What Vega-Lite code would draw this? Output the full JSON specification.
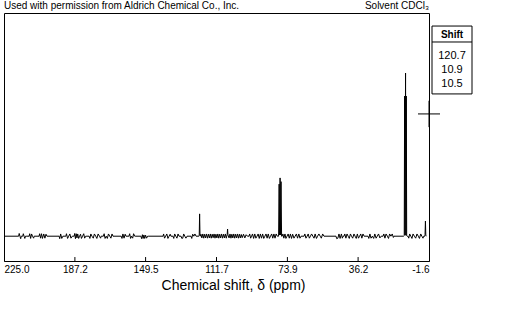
{
  "$schema": "https://vega.github.io/schema/vega-lite/v6.json",
  "padding": {"left": 3, "top": 0, "right": 0, "bottom": 0},
  "background": "white",
  "config": {
    "font": "Liberation Sans",
    "view": {"stroke": "black", "strokeWidth": 1}
  },
  "datasets": {
    "spectrum": [
      {"d":225.0,"v":10},{"d":217.2,"v":10},{"d":216.9,"v":11.1},{"d":216.5,"v":10},{"d":216.1,"v":9},{"d":215.8,"v":10},{"d":215.0,"v":10},{"d":214.7,"v":11},{"d":214.3,"v":10},{"d":213.9,"v":9.1},{"d":213.5,"v":10},{"d":212.8,"v":10},
      {"d":211.6,"v":10},{"d":211.3,"v":11},{"d":210.8,"v":9.1},{"d":210.3,"v":10.9},{"d":209.8,"v":10},{"d":209.2,"v":9.2},{"d":208.9,"v":10},
      {"d":206.3,"v":10},{"d":206.0,"v":11},{"d":205.5,"v":9.2},{"d":205.0,"v":11},{"d":204.5,"v":9.1},{"d":203.8,"v":10.9},{"d":203.2,"v":9.2},{"d":202.6,"v":10.8},{"d":202.1,"v":10},
      {"d":195.6,"v":10},{"d":195.3,"v":9},{"d":194.8,"v":10.9},{"d":194.2,"v":9.1},{"d":193.6,"v":10},{"d":193.0,"v":10},
      {"d":192.0,"v":10},{"d":191.7,"v":11},{"d":191.1,"v":9.1},{"d":190.5,"v":10},{"d":189.9,"v":10.9},{"d":189.3,"v":9.2},{"d":188.6,"v":10},{"d":188.2,"v":10},
      {"d":187.6,"v":10},{"d":187.3,"v":11.1},{"d":186.9,"v":9},{"d":186.5,"v":11},{"d":186.1,"v":9.3},{"d":185.7,"v":10.9},{"d":185.2,"v":9.1},{"d":184.7,"v":10},{"d":184.2,"v":10.8},{"d":183.7,"v":9.1},{"d":183.1,"v":10},{"d":182.5,"v":11},{"d":182.0,"v":9.2},{"d":181.4,"v":10},{"d":180.8,"v":10},
      {"d":179.6,"v":10},{"d":179.2,"v":9.1},{"d":178.7,"v":10.9},{"d":178.1,"v":10},{"d":177.4,"v":9.2},{"d":176.8,"v":10.9},{"d":176.1,"v":10},{"d":175.5,"v":9.1},{"d":174.8,"v":10.9},{"d":174.1,"v":10},{"d":173.5,"v":9.2},{"d":173.2,"v":10},
      {"d":172.0,"v":10},{"d":171.6,"v":11},{"d":171.1,"v":9.1},{"d":170.5,"v":10},{"d":169.9,"v":9.1},{"d":169.3,"v":10.9},{"d":168.6,"v":10},{"d":168.0,"v":9.2},{"d":167.4,"v":10.9},{"d":166.9,"v":10},
      {"d":162.5,"v":10},{"d":162.1,"v":9.1},{"d":161.6,"v":10.9},{"d":161.0,"v":9.2},{"d":160.4,"v":10.8},{"d":160.0,"v":10},
      {"d":158.4,"v":10},{"d":158.0,"v":11},{"d":157.5,"v":9.1},{"d":157.0,"v":10},{"d":156.4,"v":9.2},{"d":155.9,"v":11},{"d":155.3,"v":10},{"d":154.7,"v":10},
      {"d":152.0,"v":10},{"d":151.6,"v":9},{"d":151.2,"v":10.6},{"d":150.8,"v":9.1},{"d":150.4,"v":10.5},{"d":150.0,"v":9.1},{"d":149.5,"v":10.4},{"d":149.0,"v":9.2},{"d":148.4,"v":10},{"d":147.8,"v":10},
      {"d":140.2,"v":10},{"d":139.9,"v":10.9},{"d":139.4,"v":9.2},{"d":138.8,"v":10},{"d":138.2,"v":10.9},{"d":137.6,"v":9.1},{"d":137.0,"v":10},{"d":136.4,"v":10.8},{"d":136.0,"v":10},
      {"d":134.9,"v":10},{"d":134.5,"v":9.1},{"d":134.0,"v":10.9},{"d":133.4,"v":10},{"d":132.8,"v":9.2},{"d":132.2,"v":10.9},{"d":131.7,"v":10},
      {"d":130.6,"v":10},{"d":130.2,"v":9.1},{"d":129.7,"v":9.2},{"d":129.2,"v":10.9},{"d":128.6,"v":10},{"d":128.0,"v":9.2},{"d":127.4,"v":10},
      {"d":125.3,"v":10},{"d":124.9,"v":9.1},{"d":124.4,"v":10.8},{"d":123.8,"v":10},{"d":123.2,"v":10.9},{"d":122.6,"v":10},
      {"d":121.1,"v":10},{"d":120.9,"v":10.4},{"d":120.7,"v":19.0},{"d":120.5,"v":10.4},{"d":120.3,"v":10},
      {"d":120.0,"v":10.8},{"d":119.5,"v":9.3},{"d":119.0,"v":10.9},{"d":118.5,"v":9.2},{"d":118.0,"v":10.8},{"d":117.5,"v":9.3},{"d":117.0,"v":10.9},{"d":116.5,"v":9.2},{"d":116.0,"v":10.8},{"d":115.5,"v":9.3},{"d":115.0,"v":10.9},{"d":114.5,"v":9.2},{"d":114.0,"v":10.8},{"d":113.5,"v":9.4},{"d":113.0,"v":10.9},{"d":112.5,"v":9.2},{"d":112.0,"v":10.8},{"d":111.5,"v":9.3},{"d":111.0,"v":10.9},{"d":110.5,"v":9.2},{"d":110.0,"v":10.8},{"d":109.5,"v":9.3},{"d":109.0,"v":10.9},{"d":108.5,"v":9.2},{"d":108.0,"v":10.8},{"d":107.5,"v":9.3},{"d":107.0,"v":10.9},{"d":106.5,"v":9.2},{"d":106.0,"v":10.7},{"d":105.8,"v":12.9},{"d":105.6,"v":10.5},{"d":105.0,"v":9.3},{"d":104.5,"v":10.9},{"d":104.0,"v":9.2},{"d":103.5,"v":10.8},{"d":103.0,"v":9.3},{"d":102.5,"v":10.9},{"d":102.0,"v":9.2},{"d":101.5,"v":10.8},{"d":101.0,"v":9.3},{"d":100.5,"v":10.9},{"d":100.0,"v":9.2},{"d":99.5,"v":10.8},{"d":99.0,"v":9.3},{"d":98.5,"v":10.7},{"d":98.0,"v":9.4},{"d":97.3,"v":10.8},{"d":96.6,"v":9.3},{"d":95.9,"v":10.6},{"d":95.2,"v":10},
      {"d":94.4,"v":10},{"d":94.0,"v":10.9},{"d":93.5,"v":9.2},{"d":93.0,"v":10},{"d":92.5,"v":10.9},{"d":91.9,"v":9.1},{"d":91.3,"v":10.9},{"d":90.7,"v":9.2},{"d":90.1,"v":10},{"d":89.5,"v":10.9},{"d":88.9,"v":9.1},{"d":88.3,"v":10.9},{"d":87.7,"v":9.2},{"d":87.1,"v":10.9},{"d":86.5,"v":9.1},{"d":85.9,"v":10},{"d":85.3,"v":10.9},{"d":84.7,"v":9.2},{"d":84.1,"v":10.9},{"d":83.5,"v":9.1},{"d":82.9,"v":10},{"d":82.3,"v":10.9},{"d":81.7,"v":9.2},{"d":81.1,"v":10.9},{"d":80.5,"v":9.2},{"d":79.9,"v":10.9},{"d":79.3,"v":10},
      {"d":78.6,"v":10},{"d":78.3,"v":31},{"d":78.1,"v":10.5},{"d":77.8,"v":33.5},{"d":77.6,"v":10.5},{"d":77.3,"v":32},{"d":77.0,"v":10},
      {"d":76.7,"v":10},{"d":76.3,"v":10.9},{"d":75.8,"v":9.2},{"d":75.2,"v":10.9},{"d":74.7,"v":9.1},{"d":74.1,"v":10},{"d":73.5,"v":10.9},{"d":72.9,"v":9.2},{"d":72.3,"v":10.9},{"d":71.7,"v":9.1},{"d":71.1,"v":10.8},{"d":70.4,"v":9.2},{"d":69.8,"v":10},{"d":69.1,"v":10.9},{"d":68.5,"v":9.2},{"d":67.8,"v":10.9},{"d":67.2,"v":9.2},{"d":66.6,"v":10},
      {"d":65.0,"v":10},{"d":64.6,"v":10.9},{"d":64.0,"v":9.2},{"d":63.4,"v":10},{"d":62.8,"v":10.9},{"d":62.2,"v":9.2},{"d":61.6,"v":10},{"d":61.0,"v":10.9},{"d":60.3,"v":10},{"d":59.7,"v":9.2},{"d":59.1,"v":10.9},{"d":58.4,"v":9.1},{"d":57.8,"v":10},{"d":57.1,"v":10.9},{"d":56.4,"v":10},{"d":55.8,"v":9.2},{"d":55.1,"v":10.9},{"d":54.4,"v":10},
      {"d":48.0,"v":10},{"d":47.6,"v":9.0},{"d":47.0,"v":9.2},{"d":46.4,"v":10.9},{"d":45.8,"v":9.1},{"d":45.1,"v":10.9},{"d":44.6,"v":9.2},{"d":44.2,"v":10},
      {"d":43.7,"v":10},{"d":43.3,"v":10.9},{"d":42.7,"v":9.2},{"d":42.1,"v":10.9},{"d":41.5,"v":10},{"d":40.9,"v":9.1},{"d":40.3,"v":10.9},{"d":39.7,"v":10},{"d":39.1,"v":9.2},{"d":38.4,"v":10.9},{"d":37.8,"v":10},{"d":37.2,"v":9.1},{"d":36.6,"v":10.9},{"d":36.0,"v":9.2},{"d":35.4,"v":10},{"d":34.8,"v":10.9},{"d":34.2,"v":9.2},{"d":33.6,"v":10.9},{"d":33.0,"v":10},
      {"d":30.9,"v":10},{"d":30.5,"v":9.1},{"d":29.9,"v":10.9},{"d":29.3,"v":9.2},{"d":28.6,"v":10},{"d":27.9,"v":9.1},{"d":27.3,"v":10.9},{"d":26.6,"v":9.2},{"d":26.0,"v":10},{"d":25.3,"v":10.9},{"d":24.6,"v":9.3},{"d":23.9,"v":10},
      {"d":22.9,"v":10},{"d":22.5,"v":10.9},{"d":21.9,"v":9.2},{"d":21.3,"v":10.9},{"d":20.6,"v":10},{"d":20.0,"v":9.1},{"d":19.4,"v":10.9},{"d":18.7,"v":10},{"d":18.0,"v":10.9},{"d":17.4,"v":9.5},{"d":17.1,"v":10},
      {"d":12.0,"v":10},{"d":11.6,"v":10.3},{"d":11.4,"v":66.5},{"d":11.2,"v":10.4},{"d":10.9,"v":75.8},{"d":10.7,"v":10.4},{"d":10.5,"v":66.5},{"d":10.3,"v":10.2},{"d":10.0,"v":10},
      {"d":9.6,"v":10},{"d":9.2,"v":9.2},{"d":8.7,"v":10.9},{"d":8.1,"v":10},{"d":7.5,"v":9.1},{"d":6.9,"v":10.9},{"d":6.2,"v":10},{"d":5.5,"v":9.2},{"d":4.8,"v":10.9},{"d":4.1,"v":10},{"d":3.5,"v":9.1},{"d":2.8,"v":10.9},{"d":2.2,"v":10},{"d":1.6,"v":9.2},{"d":1.2,"v":10},
      {"d":0.6,"v":10},{"d":0.5,"v":10.6},{"d":0.3,"v":16.1},{"d":0.1,"v":10.4},{"d":-0.2,"v":10}
    ]
  },
  "hconcat": [
    {
      "width": 425,
      "height": 248,
      "layer": [
        {
          "data": {"name": "spectrum"},
          "mark": {"type": "line", "color": "black", "strokeWidth": 1, "clip": true},
          "encoding": {
            "x": {
              "field": "d", "type": "quantitative",
              "scale": {"domain": [225, -1.6], "nice": false, "zero": false},
              "axis": {
                "values": [225, 187.2, 149.5, 111.7, 73.9, 36.2, -1.6],
                "labelExpr": "datum.value < 0 ? '-' + format(-datum.value, '.1f') : format(datum.value, '.1f')",
                "labelFlush": true,
                "grid": false,
                "domainColor": "black",
                "ticks": false,
                "labelPadding": 3,
                "labelFontSize": 10,
                "labelColor": "black",
                "labelFont": "Liberation Sans",
                "title": "Chemical shift, δ (ppm)",
                "titleFont": "Liberation Sans",
                "titleFontSize": 14,
                "titleFontWeight": "normal",
                "titleColor": "black",
                "titleX": 229,
                "titleY": 28,
                "titleBaseline": "alphabetic"
              }
            },
            "y": {"field": "v", "type": "quantitative", "scale": {"domain": [0, 100], "nice": false}, "axis": null}
          }
        },
        {
          "data": {"values": [{"d": 187.2}, {"d": 149.5}, {"d": 111.7}, {"d": 73.9}, {"d": 36.2}]},
          "mark": {"type": "rule", "color": "black", "strokeWidth": 1},
          "encoding": {
            "x": {"field": "d", "type": "quantitative"},
            "y": {"datum": 0, "type": "quantitative"},
            "y2": {"datum": 1.6}
          }
        },
        {
          "data": {"values": [{"t": "Used with permission from Aldrich Chemical Co., Inc."}]},
          "mark": {"type": "text", "align": "left", "baseline": "middle", "fontSize": 10, "color": "black", "font": "Liberation Sans"},
          "encoding": {
            "x": {"datum": 225, "type": "quantitative"},
            "y": {"datum": 103, "type": "quantitative"},
            "text": {"field": "t"}
          }
        },
        {
          "data": {"values": [{"t": "Solvent CDCl₃"}]},
          "mark": {"type": "text", "align": "right", "baseline": "middle", "fontSize": 10, "color": "black", "font": "Liberation Sans"},
          "encoding": {
            "x": {"datum": -1.6, "type": "quantitative"},
            "y": {"datum": 103, "type": "quantitative"},
            "text": {"field": "t"}
          }
        },
        {
          "data": {"values": [{"c": "cursor"}]},
          "mark": {"type": "point", "shape": "M-1,0L1,0M0,-1.2L0,1.2", "size": 484, "filled": false, "stroke": "black", "strokeWidth": 1, "opacity": 1},
          "encoding": {
            "x": {"datum": -1.6, "type": "quantitative"},
            "y": {"datum": 59.3, "type": "quantitative"}
          }
        }
      ]
    },
    {
      "width": 40,
      "height": 248,
      "view": {"stroke": null},
      "layer": [
        {
          "data": {"values": [{"c": "box"}]},
          "mark": {"type": "rect", "fill": "white", "stroke": "black", "strokeWidth": 1},
          "encoding": {
            "x": {"datum": 0, "type": "quantitative", "scale": {"domain": [0, 1], "nice": false, "zero": false}, "axis": null},
            "x2": {"datum": 1},
            "y": {"datum": -1.14, "type": "quantitative", "scale": {"domain": [-2.071, 15.643], "reverse": true, "nice": false, "zero": false}, "axis": null},
            "y2": {"datum": 3.71}
          }
        },
        {
          "data": {"values": [{"c": "sep"}]},
          "mark": {"type": "rule", "color": "black", "strokeWidth": 1},
          "encoding": {
            "x": {"datum": 0, "type": "quantitative"},
            "x2": {"datum": 1},
            "y": {"datum": 0, "type": "quantitative"}
          }
        },
        {
          "data": {"values": [{"h": "Shift"}]},
          "mark": {"type": "text", "fontSize": 10, "fontWeight": "bold", "baseline": "middle", "color": "black", "font": "Liberation Sans"},
          "encoding": {
            "x": {"datum": 0.5, "type": "quantitative"},
            "y": {"datum": -0.5, "type": "quantitative"},
            "text": {"field": "h"}
          }
        },
        {
          "data": {"values": [{"shift": "120.7", "rank": 1}, {"shift": "10.9", "rank": 2}, {"shift": "10.5", "rank": 3}]},
          "mark": {"type": "text", "fontSize": 11, "baseline": "middle", "color": "black", "font": "Liberation Sans"},
          "encoding": {
            "x": {"datum": 0.5, "type": "quantitative"},
            "y": {"field": "rank", "type": "quantitative"},
            "text": {"field": "shift"}
          }
        }
      ]
    }
  ],
  "spacing": 3,
  "bounds": "flush"
}
